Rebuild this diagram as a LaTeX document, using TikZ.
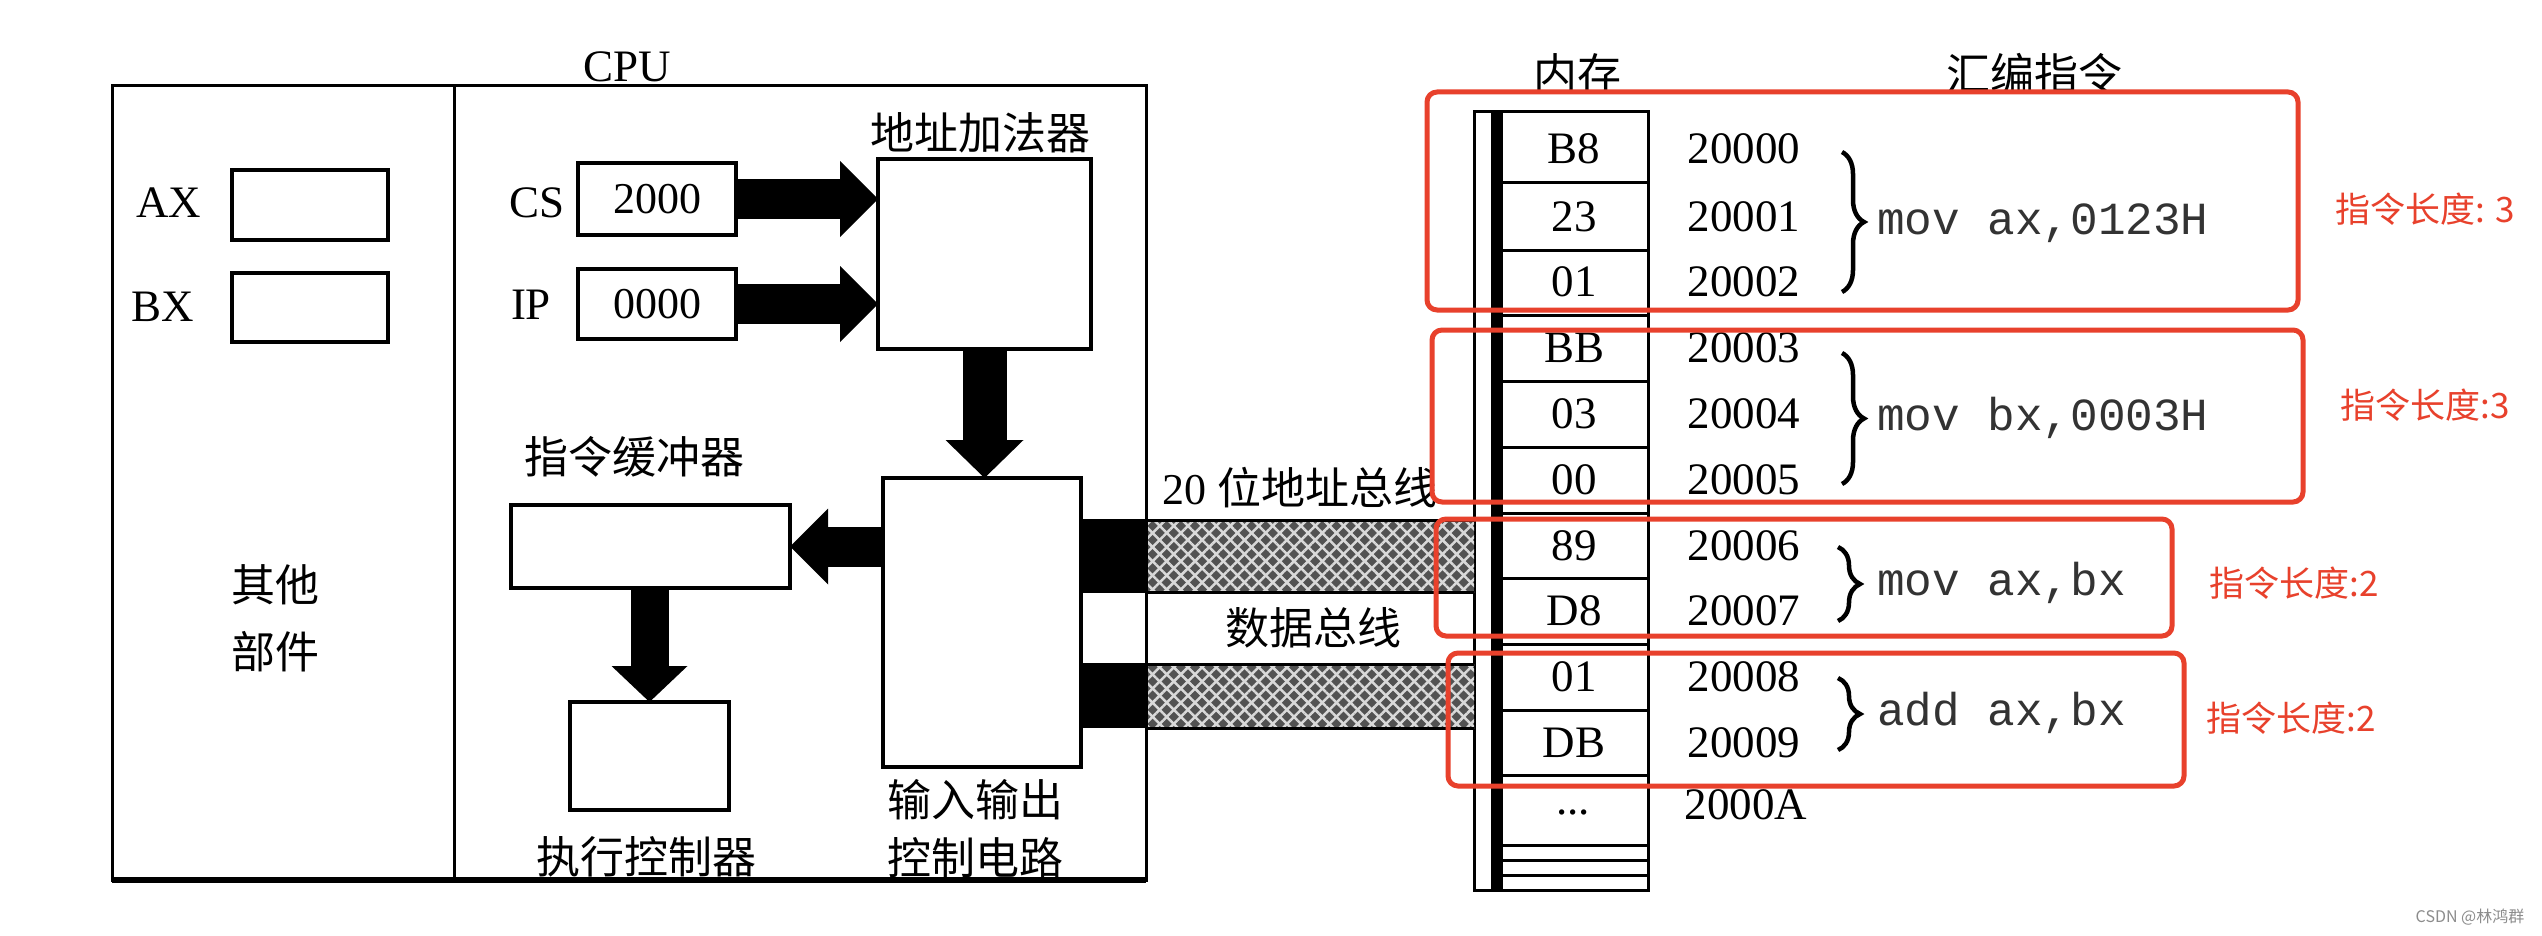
\documentclass[tikz,border=0pt]{standalone}
\usepackage{fontspec}
\setmainfont{Liberation Serif}
\newfontfamily\cjk{Noto Sans CJK SC}
\newfontfamily\monof{Liberation Mono}
\usetikzlibrary{arrows.meta,decorations.pathreplacing,patterns.meta}
\definecolor{mark}{RGB}{232,65,44}
\tikzset{
  box/.style={draw, line width=4pt, fill=white, inner sep=0pt, outer sep=0pt},
  frameline/.style={line width=3pt},
  harrow/.style={line width=40pt, -{Triangle[width=76pt,length=38pt,line width=0pt]}},
  varrow/.style={line width=44pt, -{Triangle[width=78pt,length=38pt,line width=0pt]}},
  varrowb/.style={line width=38pt, -{Triangle[width=76pt,length=36pt,line width=0pt]}},
  sr/.style={font=\fontsize{45}{48}\selectfont, inner sep=0pt},
  cn/.style={font=\cjk\fontsize{44}{50}\selectfont, inner sep=0pt},
  mono/.style={font=\monof\fontsize{46}{50}\selectfont, text=black!80, inner sep=0pt, anchor=west},
  redbox/.style={draw=mark, line width=5pt, rounded corners=10pt},
  redlbl/.style={font=\cjk\fontsize{35}{40}\selectfont, text=mark, inner sep=0pt},
  bracestyle/.style={decorate, decoration={brace, amplitude=22pt}, line width=4.5pt},
  hatch/.style={fill=black!68},
}
\begin{document}
\begin{tikzpicture}[x=1pt,y=-1pt]
\useasboundingbox[fill=white] (0,0) rectangle (2542,936);

% ---------- CPU frame ----------
\node[draw, line width=3pt, minimum width=1034pt, minimum height=794pt, inner sep=0pt, outer sep=0pt] (frame) at (629,483) {};
\draw[line width=6pt] (frame.south west) -- (frame.south east);
\draw[frameline] (454,86) -- (454,880);
\node[sr, anchor=base] (cpu) at (627,82) {CPU};

% other parts
\node[sr] (axl) at (169,203) {AX};
\node[box, minimum width=156pt, minimum height=70pt] (ax) at (310,205) {};
\node[sr] (bxl) at (163,307) {BX};
\node[box, minimum width=156pt, minimum height=69pt] (bx) at (310,307.5) {};
\node[cn] (oth1) at (275,585) {其他};
\node[cn] (oth2) at (275,652) {部件};

% registers
\node[sr] (csl) at (537,203) {CS};
\node[box, minimum width=158pt, minimum height=71pt, font=\fontsize{44}{48}\selectfont] (cs) at (657,199) {2000};
\node[sr] (ipl) at (531,305) {IP};
\node[box, minimum width=158pt, minimum height=70pt, font=\fontsize{44}{48}\selectfont] (ip) at (657,304) {0000};

% adder
\node[cn] (adderl) at (980,133) {地址加法器};
\node[box, minimum width=213pt, minimum height=190pt] (adder) at (984.5,254) {};

% io control
\node[box, minimum width=198pt, minimum height=289pt] (io) at (982,622.5) {};
\node[cn] (iol1) at (975,800) {输入输出};
\node[cn] (iol2) at (975,858) {控制电路};

% instruction buffer
\node[cn] (bufl) at (634,457) {指令缓冲器};
\node[box, minimum width=279pt, minimum height=83pt] (buf) at (650.5,546.5) {};

% execution control
\node[box, minimum width=159pt, minimum height=108pt] (exec) at (649.5,756) {};
\node[cn] (execl) at (646,857) {执行控制器};

% arrows
\draw[harrow] (cs.east) -- (cs.east -| adder.west);
\draw[harrow] (ip.east) -- (ip.east -| adder.west);
\draw[varrow] (adder.south) -- (adder.south |- io.north);
\draw[harrow] (io.west |- buf.east) -- (buf.east);
\draw[varrowb] (buf.south -| exec.north) -- (exec.north);

% ---------- memory ----------
\node[draw, line width=3pt, minimum width=174pt, minimum height=778pt, inner sep=0pt, outer sep=0pt] (mem) at (1561,501) {};
\draw[line width=12pt] (1497,112) -- (1497,890);
\foreach \y in {183,250,315,381,447,513,578,644,710,775,845,860,875}
  \draw[line width=3pt] (1497,\y) -- (1648,\y);
\node[cn] (meml) at (1577,74) {内存};
\node[cn] (asml) at (2034,74) {汇编指令};

\foreach \v/\a/\y [count=\i] in {B8/20000/149, 23/20001/217, 01/20002/282, BB/20003/348, 03/20004/414, 00/20005/480, 89/20006/546, D8/20007/611, 01/20008/677, DB/20009/743}
{
  \node[sr] (cell\i) at (1574,\y) {\v};
  \node[sr] (addr\i) at (1744,\y) {\a};
}
\node[sr] (cell11) at (1573,812) {...};
\node[sr] (addr11) at (1746,805) {2000A};

% buses
\fill (1081,519) rectangle (1146,593);
\fill (1081,663) rectangle (1146,728);
\foreach \ya/\yb in {520/592, 664/728}{
  \fill[hatch] (1148,\ya) rectangle (1474,\yb);
  \fill[pattern={Lines[angle=45,distance=10pt,line width=2.5pt]}, pattern color=white!85!black] (1148,\ya) rectangle (1474,\yb);
  \fill[pattern={Lines[angle=-45,distance=10pt,line width=2.5pt]}, pattern color=white!85!black] (1148,\ya) rectangle (1474,\yb);
  \draw[line width=3pt] (1148,\ya) -- (1474,\ya);
  \draw[line width=3pt] (1148,\yb) -- (1474,\yb);
}
\node[inner sep=0pt] (abusl) at (1300,488) {\fontsize{44}{48}\selectfont 20 {\cjk 位地址总线}};
\node[cn] (dbusl) at (1313,628) {数据总线};

% braces and assembly
\draw[bracestyle] (1842,152) -- (1842,292);
\draw[bracestyle] (1842,353) -- (1842,484);
\draw[bracestyle] (1838,547) -- (1838,621);
\draw[bracestyle] (1838,678) -- (1838,750);
\node[mono] (ins1) at (1877,223) {mov ax,0123H};
\node[mono] (ins2) at (1877,418) {mov bx,0003H};
\node[mono] (ins3) at (1877,583) {mov ax,bx};
\node[mono] (ins4) at (1877,713) {add ax,bx};

% red annotations
\draw[redbox] (1427,92) rectangle (2298,310);
\draw[redbox] (1432,330) rectangle (2303,502);
\draw[redbox] (1436,519) rectangle (2172,636);
\draw[redbox] (1448,653) rectangle (2184,786);
\node[redlbl] (len1) at (2425,209) {指令长度: 3};
\node[redlbl] (len2) at (2425,405) {指令长度:3};
\node[redlbl] (len3) at (2294,583) {指令长度:2};
\node[redlbl] (len4) at (2291,718) {指令长度:2};

\node[font=\cjk\fontsize{16}{18}\selectfont, text=black!45, inner sep=0pt] (wm) at (2470,917) {CSDN @林鸿群};
\end{tikzpicture}
\end{document}
